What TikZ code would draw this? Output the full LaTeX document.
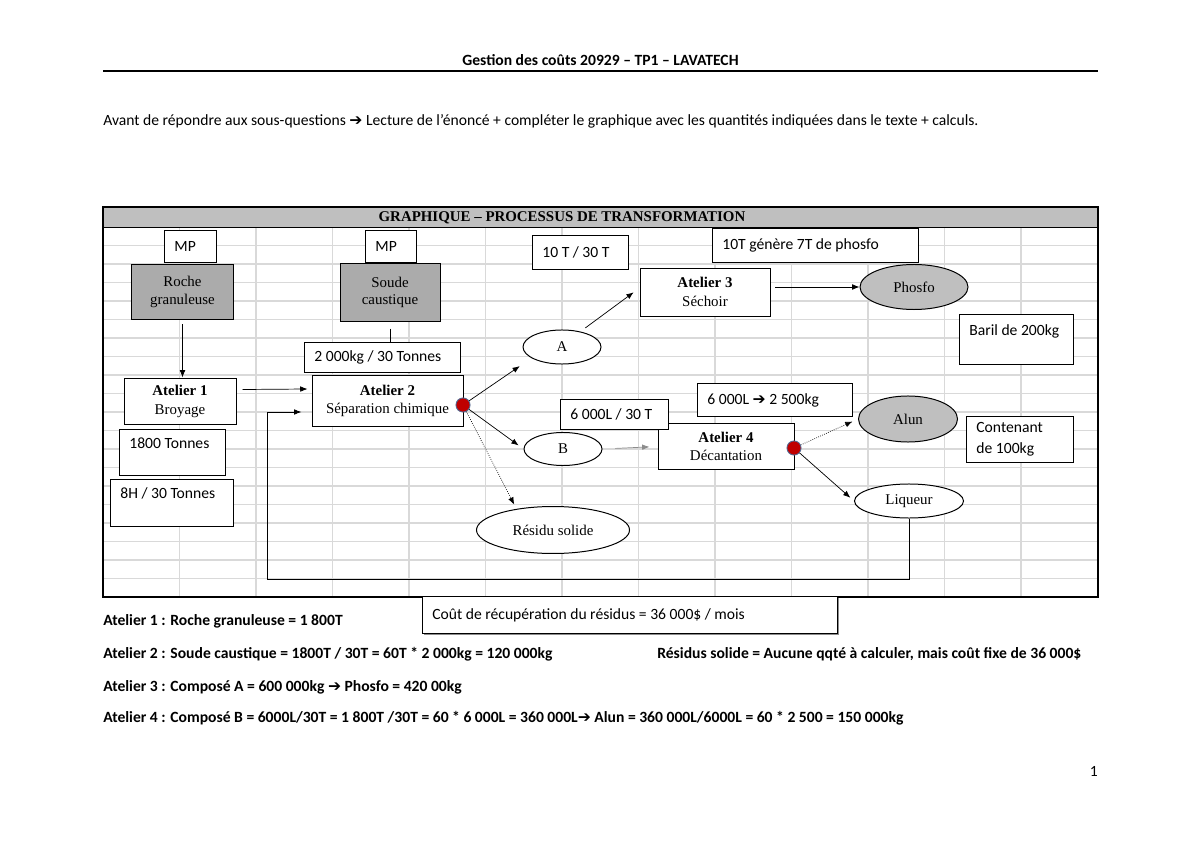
\documentclass[tikz,border=0pt]{standalone}
\usepackage{fontspec}
\setmainfont{Carlito}
\newfontfamily\tnr{Liberation Serif}
\newfontfamily\djv{DejaVu Sans}
\usetikzlibrary{arrows.meta,shapes.geometric,calc,shadows}
\definecolor{rouge}{HTML}{C00000}
\definecolor{bord}{HTML}{4F6B95}
\newcommand{\fleche}{{\djv\mdseries ➔}}
\begin{document}
\begin{tikzpicture}[
    x=0.2475mm, y=-0.2475mm,
    font=\fontsize{11}{13.5}\selectfont,
    grille/.style={draw=black!15,line width=0.45mm},
    lbl/.style={draw=black,fill=white,line width=0.7pt,anchor=north west,align=flush left,
        inner xsep=2.45mm,inner ysep=0pt},
    stock/.style={draw=black,fill=black!33,line width=0.7pt,align=center,inner sep=0pt,
        font=\tnr\fontsize{10.5}{12.5}\selectfont},
    atelier/.style={draw=black,fill=white,line width=0.7pt,align=center,inner sep=0pt,
        font=\tnr\fontsize{10.5}{13}\selectfont},
    flux/.style={ellipse,draw=black,fill=white,line width=0.7pt,inner sep=0pt,
        font=\tnr\fontsize{10.5}{12.5}\selectfont},
    prod/.style={flux,fill=black!25},
    pt/.style={circle,draw=bord,fill=rouge,line width=0.6pt,minimum size=3.5mm,inner sep=0pt},
    arr/.style={draw=black,line width=0.5pt,-{Latex[length=1.8mm,width=1.4mm]}},
    pointille/.style={arr,densely dotted},
    ligne/.style={draw=black,line width=0.5pt},
    texte/.style={anchor=base west,inner sep=0pt,font=\fontsize{11}{13.5}\selectfont\bfseries}
]
\useasboundingbox (0,0) rectangle (1200,848);

% en-tete
\node[anchor=base,inner sep=0pt,font=\fontsize{11}{13.5}\selectfont\bfseries] (entete) at (600.5,66)
    {Gestion des coûts 20929 – TP1 – LAVATECH};
\draw[line width=0.5mm] (103,71) -- (1098,71);
\node[anchor=base west,inner sep=0pt] (consigne) at (103,126)
    {Avant de répondre aux sous-questions \fleche{} Lecture de l’énoncé + compléter le graphique avec les quantités indiquées dans le texte + calculs.};

% grille
\foreach \i in {1,...,12}
    \draw[grille] (103+76.5*\i,227) -- (103+76.5*\i,597);
\foreach \j in {1,...,19}
    \draw[grille] (103,227+18.5*\j) -- (1098,227+18.5*\j);
\draw[fill=black!25,line width=0.7pt] (103,207) rectangle (1098,227);
\draw[line width=1.3pt] (103,207) rectangle (1098,597);
\node[font=\tnr\fontsize{10.5}{12}\selectfont\bfseries] (titregraph) at (562,217.5)
    {GRAPHIQUE – PROCESSUS DE TRANSFORMATION};

% matieres premieres
\node[lbl,text width=7.92mm,minimum height=7.92mm] (mp1) at (164,230) {MP};
\node[lbl,text width=7.67mm,minimum height=7.92mm] (mp2) at (365,230) {MP};
\node[stock,minimum width=25mm,minimum height=13.37mm] (roche) at (182.5,292) {Roche\\granuleuse};
\node[stock,minimum width=24.75mm,minimum height=14.6mm] (soude) at (390,292.5) {Soude\\caustique};
\node[lbl,text width=33.66mm,minimum height=7.43mm] (q2k) at (304,342) {2 000kg / 30 Tonnes};

% ateliers
\node[atelier,minimum width=27.72mm,minimum height=11.63mm] (at1) at (180,401.5) {\textbf{Atelier 1}\\Broyage};
\node[atelier,minimum width=37.37mm,minimum height=12.38mm] (at2) at (387.5,401) {\textbf{Atelier 2}\\Séparation chimique};
\node[atelier,minimum width=32.18mm,minimum height=11.88mm] (at3) at (705,292) {\textbf{Atelier 3}\\Séchoir};
\node[atelier,minimum width=33.66mm,minimum height=11.63mm] (at4) at (726,446.5) {\textbf{Atelier 4}\\Décantation};

\node[lbl,text width=21.29mm,minimum height=11.39mm] (t1800) at (119,429) {1800 Tonnes\\ \mbox{}};
\node[lbl,text width=25.49mm,minimum height=11.63mm] (t8h) at (110,479) {8H / 30 Tonnes\\ \mbox{}};

% produits
\node[pt] (d1) at (463,405) {};
\node[flux,minimum width=19.3mm,minimum height=8.42mm] (A) at (562,347) {A};
\node[flux,minimum width=19.3mm,minimum height=8.17mm] (B) at (563,449) {B};
\node[flux,minimum width=37.87mm,minimum height=11.63mm] (res) at (553,530) {Résidu solide};
\node[lbl,text width=18.81mm,minimum height=8.42mm] (t10) at (532,235) {10 T / 30 T};
\node[lbl,text width=46.04mm,minimum height=8.42mm] (gen) at (712,228) {10T génère 7T de phosfo};
\node[prod,minimum width=26.73mm,minimum height=11.14mm] (ph) at (914,287) {Phosfo};
\node[lbl,text width=23.27mm,minimum height=12.38mm] (baril) at (959,314) {Baril de 200kg\\ \mbox{}};
\node[lbl,text width=33.41mm,minimum height=8.17mm] (conv) at (697,383) {6 000L \fleche{} 2 500kg};
\node[lbl,text width=21.78mm,minimum height=7.43mm] (t6) at (560,399) {6 000L / 30 T};
\node[pt] (d2) at (794,448) {};
\node[prod,minimum width=24.5mm,minimum height=11.39mm] (al) at (908,419) {Alun};
\node[lbl,text width=21.53mm,minimum height=11.39mm] (cont) at (966,416) {Contenant\\[1pt]de 100kg};
\node[flux,minimum width=26.98mm,minimum height=8.42mm] (liq) at (909,501) {Liqueur};
\coordinate (fb) at (267,579);

% liaisons
\draw[arr,shorten <=1.2mm] (roche.south) -- (roche.south |- at1.north);
\draw[ligne,shorten <=1.5mm] (soude.south) -- (soude.south |- q2k.north);
\draw[arr] ($(at1.east)+(6,-12)$) -- ($(at2.west)+(-4,-12)$);
\draw[arr,shorten >=3.5mm] (d1) -- (A.200);
\draw[arr,shorten <=1.5mm,shorten >=1.8mm] (A.40) -- ($(at3.west)+(0,-4)$);
\draw[arr,shorten >=1.5mm] (d1) -- (B.west);
\draw[pointille,shorten >=1.2mm] (d1) -- (res.150);
\draw[arr,shorten <=1.2mm] (at3.east |- ph) -- (ph.west);
\draw[arr,draw=black!45,shorten <=3.2mm,shorten >=2mm] (B.east) -- (at4.west);
\draw[pointille,shorten >=1.5mm] (d2) -- (al.west);
\draw[arr,shorten >=1.2mm] (d2) -- (liq.west);
\draw[arr,shorten >=2.5mm] (liq.south) |- (fb) |- ($(at2.west)+(0,11)$);

\node[lbl,text width=97.76mm,minimum height=9.16mm,line width=0.6pt,
    drop shadow={shadow xshift=0.5mm,shadow yshift=-0.5mm,fill=black!45,opacity=1}] (cout) at (422,596)
    {Coût de récupération du résidus = 36 000\$ / mois};

% calculs
\node[texte] (c1) at (103,625) {Atelier 1 : Roche granuleuse = 1 800T};
\node[texte] (c2) at (103,658) {Atelier 2 : Soude caustique = 1800T / 30T = 60T * 2 000kg = 120 000kg};
\node[texte] (c2b) at (657,658) {Résidus solide = Aucune qqté à calculer, mais coût fixe de 36 000\$};
\node[texte] (c3) at (103,691) {Atelier 3 : Composé A = 600 000kg \fleche{} Phosfo = 420 00kg};
\node[texte] (c4) at (103,722) {Atelier 4 : Composé B = 6000L/30T = 1 800T /30T = 60 * 6 000L = 360 000L\fleche{} Alun = 360 000L/6000L = 60 * 2 500 = 150 000kg};
\node[anchor=base east,inner sep=0pt] (page) at (1098,776) {1};
\end{tikzpicture}
\end{document}
